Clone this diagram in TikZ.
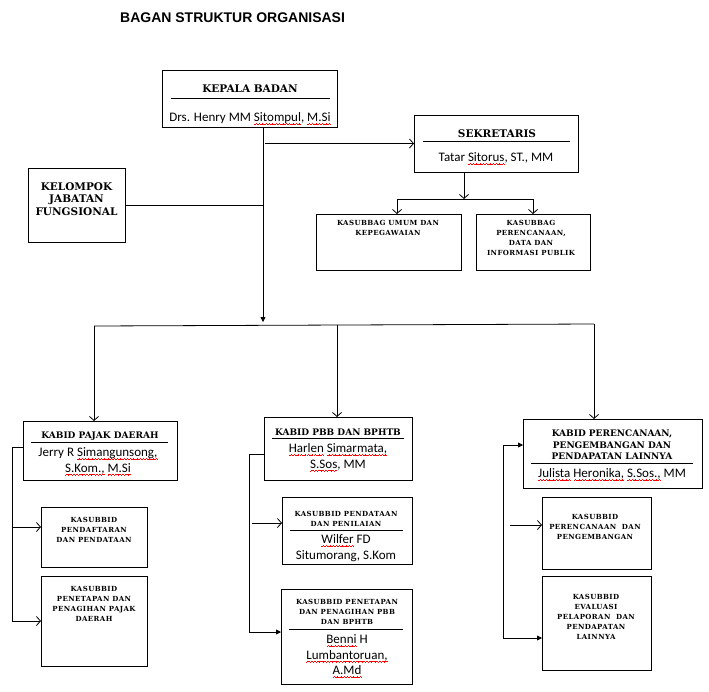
\documentclass[tikz,border=0pt]{standalone}
\usepackage{fontspec}
\setmainfont{Carlito}
\newfontfamily\titlefont{Liberation Sans}
\newfontfamily\headfont{DejaVu Serif}
\newfontfamily\subfont{DejaVu Serif}[LetterSpace=6]
\usetikzlibrary{arrows.meta}
\newsavebox{\spellbox}
\newcommand{\spellwave}{\hbox{\rule[-3.2pt]{.8pt}{.6pt}\rule[-2.6pt]{.8pt}{.6pt}\rule[-2pt]{.8pt}{.6pt}\rule[-2.6pt]{.8pt}{.6pt}}}
\newcommand{\spell}[1]{\sbox{\spellbox}{#1}\rlap{\color{red}\hbox to \wd\spellbox{\xleaders\spellwave\hfill}}\usebox{\spellbox}}

\tikzset{
  box/.style={draw, line width=.8pt, anchor=north west, inner sep=0pt, outer sep=0pt},
  headtxt/.style={inner sep=0pt, anchor=north, align=center, font=\headfont\bfseries\fontsize{10.5}{12.5}\selectfont},
  kabidtxt/.style={inner sep=0pt, anchor=north, align=center, font=\headfont\bfseries\fontsize{9}{11.5}\selectfont},
  subtxt/.style={inner sep=0pt, anchor=north, align=center, font=\subfont\bfseries\fontsize{7}{10}\selectfont},
  whotxt/.style={inner sep=0pt, anchor=north, align=center, font=\fontsize{13}{15.5}\selectfont},
  link/.style={line width=.8pt},
  openarr/.style={link, -{Straight Barb[length=4pt,width=9pt]}},
  fillarr/.style={link, -{Triangle[length=5pt,width=5pt]}}
}

\begin{document}
\begin{tikzpicture}[x = 1pt, y = -1pt]
\useasboundingbox (0,0) rectangle (709,691);
\node[anchor = west, inner sep = 0pt, font = \titlefont\bfseries\fontsize{14}{16}\selectfont] (title) at (120,18) {BAGAN STRUKTUR ORGANISASI};

% pimpinan dan sekretariat
\node[box, minimum width = 175, minimum height = 57] (kepala) at (162,70) {};
\node[headtxt] (kepala_head) at (250,84.2) {KEPALA BADAN};
\draw[link] (171,98) -- (330,98);
\node[whotxt] (kepala_who) at (250,112.5) {Drs. Henry MM \spell{Sitompul}, \spell{M.Si}};

\node[box, minimum width = 164, minimum height = 57] (sekretaris) at (414,115) {};
\node[headtxt] (sekretaris_head) at (497,129.2) {SEKRETARIS};
\draw[link] (423,141) -- (570,141);
\node[whotxt] (sekretaris_who) at (496,152.5) {Tatar \spell{Sitorus}, ST., MM};

\node[box, minimum width = 97, minimum height = 74] (kelompok) at (28,168) {};
\node[headtxt] (kelompok_head) at (76.5,182.2) {KELOMPOK\\JABATAN\\FUNGSIONAL};

\node[box, minimum width = 145, minimum height = 56] (umum) at (316,214) {};
\node[subtxt] (umum_head) at (388,220.5) {KASUBBAG UMUM DAN\\KEPEGAWAIAN};
\node[box, minimum width = 114, minimum height = 56] (ppid) at (476,214) {};
\node[subtxt] (ppid_head) at (531,220.5) {KASUBBAG\\PERENCANAAN,\\DATA DAN\\INFORMASI PUBLIK};

% bidang pajak daerah
\node[box, minimum width = 154, minimum height = 59] (pajak) at (23,421) {};
\node[kabidtxt] (pajak_head) at (100,431.7) {KABID PAJAK DAERAH};
\draw[link] (31,442) -- (168,442);
\node[whotxt] (pajak_who) at (98,447.5) {Jerry R \spell{Simangunsong,}\\\spell{S.Kom.,} \spell{M.Si}};
\node[box, minimum width = 106, minimum height = 60] (pendaftaran) at (41,507) {};
\node[subtxt] (pendaftaran_head) at (94,517.5) {KASUBBID\\PENDAFTARAN\\DAN PENDATAAN};
\node[box, minimum width = 106, minimum height = 90] (penetapan) at (41,576) {};
\node[subtxt] (penetapan_head) at (94,586.5) {KASUBBID\\PENETAPAN DAN\\PENAGIHAN PAJAK\\DAERAH};

% bidang pbb dan bphtb
\node[box, minimum width = 148, minimum height = 63] (pbb) at (264,417) {};
\node[kabidtxt] (pbb_head) at (338,428.7) {KABID PBB DAN BPHTB};
\draw[link] (272,438) -- (404,438);
\node[whotxt] (pbb_who) at (338,443.5) {\spell{Harlen} \spell{Simarmata,}\\\spell{S.Sos}, MM};
\node[box, minimum width = 130, minimum height = 67] (pendataan) at (282,497) {};
\node[subtxt] (pendataan_head) at (346,511.5) {KASUBBID PENDATAAN\\DAN PENILAIAN};
\draw[link] (290,530) -- (403,530);
\node[whotxt, font = \fontsize{13}{16}\selectfont] (pendataan_who) at (346,534.5) {\spell{Wilfer} FD\\Situmorang, S.Kom};
\node[box, minimum width = 131, minimum height = 95] (penetapanpbb) at (281,589) {};
\node[subtxt] (penetapanpbb_head) at (347,599.5) {KASUBBID PENETAPAN\\DAN PENAGIHAN PBB\\DAN BPHTB};
\draw[link] (289,629) -- (403,629);
\node[whotxt] (penetapanpbb_who) at (347,634.5) {\spell{Benni} H\\\spell{Lumbantoruan,}\\\spell{A.Md}};

% bidang perencanaan
\node[box, minimum width = 179, minimum height = 69] (renc) at (523,419) {};
\node[kabidtxt] (renc_head) at (612,429.7) {KABID PERENCANAAN,\\PENGEMBANGAN DAN\\PENDAPATAN LAINNYA};
\draw[link] (531,463) -- (693,463);
\node[whotxt] (renc_who) at (612,468.5) {\spell{Julista} \spell{Heronika,} \spell{S.Sos.,} MM};
\node[box, minimum width = 109, minimum height = 72] (perencanaan) at (542,497) {};
\node[subtxt] (perencanaan_head) at (595,514.5) {KASUBBID\\PERENCANAAN \ DAN\\PENGEMBANGAN};
\node[box, minimum width = 109, minimum height = 94] (evaluasi) at (542,576) {};
\node[subtxt] (evaluasi_head) at (596,594.5) {KASUBBID\\EVALUASI\\PELAPORAN \ DAN\\PENDAPATAN\\LAINNYA};

% garis komando
\coordinate (trunk) at (263,322);
\draw[fillarr] (kepala.south -| trunk) -- (trunk);
\draw[openarr] ([xshift = 2pt]trunk |- sekretaris.west) -- (sekretaris.west);
\draw[link] (kelompok.east) -- (kelompok.east -| trunk);

\coordinate (sekj) at (464,199);
\coordinate (sekl) at (397,199);
\coordinate (sekr) at (533,199);
\draw[openarr] (sekretaris.south -| sekj) -- (sekj);
\draw[link] (sekl) -- (sekr);
\draw[openarr] (sekl) -- (umum.north -| sekl);
\draw[openarr] (sekr) -- (ppid.north -| sekr);

\coordinate (busl) at (94,326);
\coordinate (busm) at (337,325);
\coordinate (busr) at (594,324);
\draw[link] (busl) -- (busr);
\draw[openarr] (busl) -- (pajak.north -| busl);
\draw[openarr] (busm) -- (pbb.north -| busm);
\draw[openarr] (busr) -- (renc.north -| busr);

% garis ke kasubbid
\coordinate (railp) at (12,0);
\draw[openarr] ([yshift = 3.5pt]pajak.west) -| (railp |- penetapan.west) -- (penetapan.west);
\draw[openarr] ([yshift = 10pt]pendaftaran.west -| railp) -- ([yshift = 10pt]pendaftaran.west);

\coordinate (railb) at (249,0);
\draw[fillarr] ([yshift = -5.5pt]pbb.west) -| ([yshift = 4.5pt]penetapanpbb.west -| railb) -- ([yshift = 4.5pt]penetapanpbb.west);
\draw[openarr] ([yshift = 7.5pt, xshift = 3pt]pendataan.west -| railb) -- ([yshift = 7.5pt]pendataan.west);

\coordinate (railr) at (503,0);
\draw[link, {Triangle[length=5pt,width=5pt]}-{Triangle[length=5pt,width=5pt]}] ([yshift = 8.5pt]renc.west) -| ([yshift = -15pt]evaluasi.west -| railr) -- ([yshift = -15pt]evaluasi.west);
\draw[openarr] ([yshift = 8pt, xshift = 7pt]perencanaan.west -| railr) -- ([yshift = 8pt]perencanaan.west);
\end{tikzpicture}
\end{document}
